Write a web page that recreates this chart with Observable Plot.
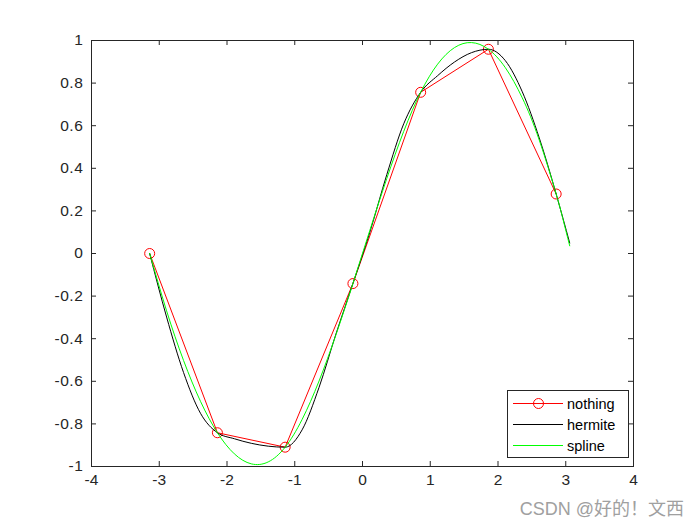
<!DOCTYPE html>
<html>
<head>
<meta charset="utf-8">
<script src="https://cdn.jsdelivr.net/npm/d3@7"></script>
<script src="https://cdn.jsdelivr.net/npm/@observablehq/plot@0.6"></script>
<style>
  html, body { margin: 0; padding: 0; background: #ffffff; }
  #chart { width: 700px; height: 525px; position: relative; }
</style>
</head>
<body>
<div id="chart"></div>
<script>
// Sample points (the "nothing" series)
const xPts = [-3.1416, -2.1416, -1.1416, -0.1416, 0.8584, 1.8584, 2.8584];
const yPts = [0, -0.8415, -0.9093, -0.1411, 0.7568, 0.9589, 0.2794];

// Dense curve positions and values
const xi = [-3.1416, -2.8916, -2.6416, -2.3916, -2.1416, -1.8916, -1.6416, -1.3916, -1.1416,
            -0.8916, -0.6416, -0.3916, -0.1416, 0.1084, 0.3584, 0.6084, 0.8584, 1.1084,
            1.3584, 1.6084, 1.8584, 2.1084, 2.3584, 2.6084, 2.8584, 2.9584, 3.0584];
const hermiteY = [0, -0.2983, -0.5586, -0.7500, -0.8415, -0.8697, -0.8911, -0.9046, -0.9093,
                  -0.8280, -0.6287, -0.3776, -0.1411, 0.1001, 0.3701, 0.6090, 0.7568, 0.8348,
                  0.8991, 0.9429, 0.9589, 0.9053, 0.7592, 0.5430, 0.2794, 0.1656, 0.0492];
const splineY = [0, -0.2693, -0.5020, -0.6939, -0.8415, -0.9406, -0.9876, -0.9785, -0.9093,
                 -0.7792, -0.5987, -0.3814, -0.1411, 0.1087, 0.3521, 0.5734, 0.7568, 0.8888,
                 0.9668, 0.9903, 0.9589, 0.8725, 0.7306, 0.5330, 0.2794, 0.1622, 0.0360];

// Tick values
const xTicks = [-4, -3, -2, -1, 0, 1, 2, 3, 4];
const yTicks = [-1, -0.8, -0.6, -0.4, -0.2, 0, 0.2, 0.4, 0.6, 0.8, 1];

// Legend entries
const legendLabels = ["nothing", "hermite", "spline"];
const legendColors = ["#ff0000", "#000000", "#00ff00"];

const pts = xPts.map((x, i) => ({x, y: yPts[i]}));
const herm = xi.map((x, i) => ({x, y: hermiteY[i]}));
const spl = xi.map((x, i) => ({x, y: splineY[i]}));

const W = 700, H = 525, mL = 91, mR = 67, mT = 40, mB = 59;
const fw = W - mL - mR, fh = H - mT - mB, tl = 5;
const axisColor = "#262626";
const FONT = "Arial, 'Liberation Sans', sans-serif";

const plot = Plot.plot({
  width: W, height: H,
  marginLeft: mL, marginRight: mR, marginTop: mT, marginBottom: mB,
  style: {fontFamily: FONT, color: axisColor, background: "#ffffff"},
  x: {domain: [-4, 4]},
  y: {domain: [-1, 1]},
  marks: [
    Plot.axisX({ticks: xTicks, tickSize: 0, tickPadding: 7, tickFormat: d => String(d), label: null, fontSize: 15.5, fill: axisColor}),
    Plot.axisY({ticks: yTicks, tickSize: 0, tickPadding: 8, tickFormat: d => String(+d.toFixed(1)), label: null, fontSize: 15.5, fill: axisColor}),
    Plot.frame({stroke: axisColor, strokeWidth: 1}),
    Plot.tickX(xTicks, {x: d => d, stroke: axisColor, insetBottom: fh - tl}),
    Plot.tickX(xTicks, {x: d => d, stroke: axisColor, insetTop: fh - tl}),
    Plot.tickY(yTicks, {y: d => d, stroke: axisColor, insetRight: fw - tl}),
    Plot.tickY(yTicks, {y: d => d, stroke: axisColor, insetLeft: fw - tl}),
    Plot.line(pts, {x: "x", y: "y", stroke: legendColors[0], strokeWidth: 1}),
    Plot.dot(pts, {x: "x", y: "y", r: 5, stroke: legendColors[0], fill: "none", strokeWidth: 1}),
    Plot.line(herm, {x: "x", y: "y", stroke: legendColors[1], strokeWidth: 1, curve: "monotone-x"}),
    Plot.line(spl, {x: "x", y: "y", stroke: legendColors[2], strokeWidth: 1, curve: "natural"})
  ]
});

document.getElementById("chart").appendChild(plot);

const svg = d3.select(plot);
// slightly wider spacing of the y tick labels, as in the reference rendering
svg.selectAll("g[aria-label='y-axis tick label'] text").attr("letter-spacing", "0.6px");

// Legend inside the axes (bottom right)
const lg = svg.append("g");
const bx = 507, by = 390, bw = 121, bh = 67;
lg.append("rect").attr("x", bx + 0.5).attr("y", by + 0.5).attr("width", bw).attr("height", bh)
  .attr("fill", "#ffffff").attr("stroke", axisColor).attr("stroke-width", 1);
legendLabels.forEach((lab, i) => {
  const yy = by + 13.5 + i * 21;
  lg.append("line").attr("x1", bx + 6).attr("x2", bx + 56).attr("y1", yy).attr("y2", yy)
    .attr("stroke", legendColors[i]).attr("stroke-width", 1);
  if (i === 0) {
    lg.append("circle").attr("cx", bx + 31.5).attr("cy", yy).attr("r", 5)
      .attr("fill", "none").attr("stroke", legendColors[i]).attr("stroke-width", 1);
  }
  lg.append("text").attr("x", bx + 60).attr("y", yy).attr("dy", "0.35em")
    .attr("text-anchor", "start").attr("font-family", FONT)
    .attr("font-size", "14.5px").attr("fill", "#000000").text(lab);
});

// Watermark
svg.append("text").attr("x", 684).attr("y", 515).attr("text-anchor", "end")
  .attr("font-size", "18px").attr("fill", "#a0a0a0")
  .attr("font-family", "Arial, 'Liberation Sans', 'Noto Sans CJK SC', sans-serif")
  .text("CSDN @好的！文西");
</script>
</body>
</html>
